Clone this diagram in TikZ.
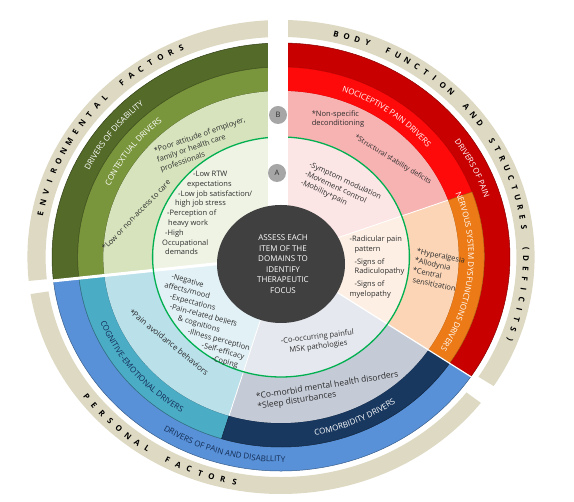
\documentclass[tikz,border=0pt]{standalone}
\usepackage{fontspec}
\setmainfont{Open Sans}
\usepackage{tikz}
\usetikzlibrary{decorations.text}

\definecolor{rim}{RGB}{221,217,195}
\definecolor{disab}{RGB}{84,106,40}
\definecolor{context}{RGB}{122,150,60}
\definecolor{greenarea}{RGB}{214,227,188}
\definecolor{greencore}{RGB}{238,243,228}
\definecolor{painred}{RGB}{200,0,0}
\definecolor{nocired}{RGB}{255,10,10}
\definecolor{nervous}{RGB}{236,122,22}
\definecolor{pinkarea}{RGB}{247,178,178}
\definecolor{peacharea}{RGB}{251,213,182}
\definecolor{pinkcore}{RGB}{252,229,229}
\definecolor{peachcore}{RGB}{253,239,228}
\definecolor{pdblue}{RGB}{88,145,216}
\definecolor{cogteal}{RGB}{75,172,198}
\definecolor{comnavy}{RGB}{24,56,96}
\definecolor{bluearea}{RGB}{186,224,234}
\definecolor{greyarea}{RGB}{196,202,214}
\definecolor{bluecore}{RGB}{226,241,246}
\definecolor{greycore}{RGB}{229,232,238}
\definecolor{corefill}{RGB}{64,64,64}
\definecolor{focusline}{RGB}{0,176,80}
\definecolor{badgegray}{RGB}{166,166,166}
\definecolor{notegray}{RGB}{45,45,45}
\definecolor{navytext}{RGB}{20,45,85}

\tikzstyle{note} = [inner sep=0pt, align=left, text=notegray,
    font=\fontsize{7.5}{9.8}\selectfont]
\tikzstyle{factor} = [inner sep=0pt, text=black, font=\bfseries\fontsize{8}{8}\selectfont]
\tikzstyle{badge} = [circle, fill=badgegray, minimum size=18pt, inner sep=0pt,
    text=notegray, font=\fontsize{7.5}{7.5}\selectfont]
\tikzstyle{focus} = [inner sep=0pt, align=center, text=white,
    font=\fontsize{8}{10.5}\selectfont]
\tikzstyle{band} = [line width=0.5]

\newcommand{\bandfont}{\fontsize{8}{8}\selectfont}
% one piece of a ring: colour, start, end, inner and outer y radius
\newcommand{\ringpart}[5]{%
  \pgfmathsetmacro{\rxa}{1.07*#4}%
  \pgfmathsetmacro{\rxb}{1.07*#5}%
  \fill[#1] ({\rxa*cos(#2)},{#4*sin(#2)})
    arc[start angle=#2, end angle=#3, x radius=\rxa, y radius=#4]
    -- ({\rxb*cos(#3)},{#5*sin(#3)})
    arc[start angle=#3, end angle=#2, x radius=\rxb, y radius=#5] -- cycle;}
% curved label inside a ring
\newcommand{\bandlabel}[5]{%
  \pgfmathsetmacro{\rxl}{1.07*#4}%
  \path[decorate, decoration={text along path, text align=center,
      text={|\bandfont\color{#1}|#5}}]
    ({\rxl*cos(#2)},{#4*sin(#2)})
    arc[start angle=#2, end angle=#3, x radius=\rxl, y radius=#4];}

\begin{document}
\begin{tikzpicture}[x=1pt, y=1pt]
\useasboundingbox (0,0) rectangle (574,502);
\begin{scope}[shift={(281,245)}]
    % Outer rim
    \ringpart{rim}{90}{185.8}{220}{237}
    \ringpart{rim}{-33}{90}{220}{237}
    \ringpart{rim}{189}{322}{220}{237}
    % Environmental sector
    \ringpart{band, disab, draw=disab!60!black}{90}{186.4}{190}{214}
    \ringpart{band, context, draw=disab!80!black}{90}{186.4}{166}{190}
    \ringpart{greenarea}{90}{186.4}{120}{166}
    \ringpart{greencore}{90}{186.4}{0.5}{120}
    % Body function sector
    \ringpart{band, painred, draw=painred!70!black}{-34}{90}{190}{214}
    \ringpart{band, nocired, draw=painred}{20}{90}{166}{190}
    \ringpart{band, nervous, draw=nervous!75!black}{-34}{20}{166}{190}
    \ringpart{pinkarea}{20}{90}{120}{166}
    \ringpart{peacharea}{-34}{20}{120}{166}
    \ringpart{pinkcore}{20}{90}{0.5}{120}
    \ringpart{peachcore}{-34}{20}{0.5}{120}
    % Personal sector
    \ringpart{band, pdblue, draw=pdblue!65!black}{186.4}{326}{190}{214}
    \ringpart{band, cogteal, draw=cogteal!65!black}{186.4}{253}{166}{190}
    \ringpart{band, comnavy, draw=comnavy!70!black}{253}{326}{166}{190}
    \ringpart{bluearea}{186.4}{253}{120}{166}
    \ringpart{greyarea}{253}{326}{120}{166}
    \ringpart{bluecore}{186.4}{253}{0.5}{120}
    \ringpart{greycore}{253}{326}{0.5}{120}
    % Dividers
    \draw[white, line width=3] (0,0) -- ({1.07*216*cos(186.4)},{216*sin(186.4)});
    \draw[white, line width=0.8] (0,0) -- ({1.07*166*cos(20)},{166*sin(20)});
    \draw[white, line width=1.2] (0,0) -- ({1.07*216*cos(-34)},{216*sin(-34)});
    \draw[white, line width=0.8] (0,0) -- ({1.07*166*cos(253)},{166*sin(253)});
    \draw[focusline, line width=1.3] (0,0) ellipse[x radius=128.4, y radius=120];
    \fill[white] (-13,40) rectangle (7,262);
    \fill[corefill] (0,-7) ellipse[x radius=64, y radius=59];
    % Ring labels
    \bandlabel{white}{170}{115}{199}{DRIVERS OF DISABILITY}
    \bandlabel{white}{170}{116}{175}{CONTEXTUAL DRIVERS}
    \bandlabel{white}{85}{24}{175}{NOCICEPTIVE PAIN DRIVERS}
    \bandlabel{white}{56}{-4}{199}{DRIVERS OF PAIN}
    \bandlabel{white}{40}{-50}{175}{NERVOUS SYSTEM DYSFUNCTIONS DRIVERS}
    \bandlabel{navytext}{214}{294}{205}{DRIVERS OF PAIN AND DISABLLITY}
    \bandlabel{navytext}{180}{259}{181}{COGNITIVE-EMOTIONAL DRIVERS}
    \bandlabel{white}{263}{324}{181}{COMORBIDITY DRIVERS}
    % Factor names on the rim
    \foreach \ch [count=\i from 0] in {E,N,V,I,R,O,N,M,E,N,T,A,L,{},F,A,C,T,O,R,S} {
        \pgfmathsetmacro{\ang}{169-2.75*\i}
        \node[factor, rotate=\ang-90] (env\i) at ({245*cos(\ang)},{229*sin(\ang)}) {\ch};
    }
    \foreach \ch [count=\i from 0] in {B,O,D,Y,{},F,U,N,C,T,I,O,N,{},A,N,D,{},
        S,T,R,U,C,T,U,R,E,S,{},{(},D,E,F,I,C,I,T,S,{)}} {
        \pgfmathsetmacro{\ang}{77-2.58*\i}
        \node[factor, rotate=\ang-90] (body\i) at ({245*cos(\ang)},{229*sin(\ang)}) {\ch};
    }
    \foreach \ch [count=\i from 0] in {P,E,R,S,O,N,A,L,{},F,A,C,T,O,R,S} {
        \pgfmathsetmacro{\ang}{217.5+2.77*\i}
        \node[factor, rotate=\ang+90] (pers\i) at ({245*cos(\ang)},{229*sin(\ang)}) {\ch};
    }
\end{scope}

% Centre
\node[focus] (assess) at (283,238) {ASSESS EACH\\ITEM OF THE\\DOMAINS TO\\IDENTIFY\\THERAPEUTIC\\FOCUS};
\node[badge] (B) at (278,387) {B};
\node[badge] (A) at (277,329) {A};

% Environmental items
\node[note, rotate=19] (poor) at (203,357) {*Poor attitude of employer,\\family or health care\\professionals};
\node[note, rotate=46] (access) at (136,287) {*Low or non-access to care};
\node[note, anchor=north west] (rtw) at (162,331) {\hspace*{31pt}-Low RTW\\\hspace*{25pt}expectations\\
    \hspace*{16pt}-Low job satisfaction/\\\hspace*{13pt}high job stress\\\hspace*{5pt}-Perception of\\
    \hspace*{6pt}heavy work\\\hspace*{3pt}-High\\Occupational\\\hspace*{3pt}demands};

% Body function items
\node[note] (decond) at (338,383) {*Non-specific\\deconditioning};
\node[note, rotate=-31, font=\fontsize{7}{8}\selectfont] (struct) at (393,342) {*Structural stability deficits};
\node[note, rotate=-25] (motor) at (341,312) {-Symptom modulation\\-Movement control\\-Mobility+pain};
\node[note] (radic) at (377,235) {-Radicular pain\\\hspace*{5pt}pattern\\[3pt]\hspace*{5pt}-Signs of\\
    \hspace*{5pt}Radiculopathy\\[3pt]\hspace*{5pt}-Signs of\\myelopathy};
\node[note, rotate=-12] (sensit) at (438,232) {*Hyperalgesia\\*Allodynia\\*Central\\\hspace*{2pt}sensitization};

% Personal items
\node[note, rotate=7, align=center] (msk) at (318,160) {-Co-occurring painful\\MSK pathologies};
\node[note, rotate=9, font=\fontsize{8.5}{10}\selectfont] (comorb) at (328,111) {*Co-morbid mental health disorders\\*Sleep disturbances};
\node[note, rotate=-15, anchor=north west] (psych) at (168,230) {\hspace*{4.5pt}-Negative\\affects/mood\\
    \hspace*{8pt}-Expectations\\\hspace*{10.5pt}-Pain-related beliefs\\\hspace*{21.5pt}\& cognitions\\
    \hspace*{34.5pt}-Illness perception\\\hspace*{51.5pt}-Self-efficacy\\\hspace*{64.5pt}-Coping};
\node[note, rotate=-39, font=\fontsize{8}{9}\selectfont] (avoid) at (169,160) {*Pain avoidance behaviors};

\end{tikzpicture}
\end{document}
